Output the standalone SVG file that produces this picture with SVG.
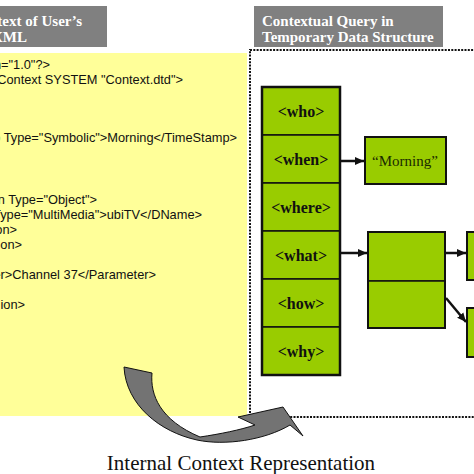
<svg xmlns="http://www.w3.org/2000/svg" width="474" height="474" viewBox="0 0 474 474">
<style>
.title{fill:#808080}
.tt{font-family:"Liberation Serif","Times New Roman",serif;font-weight:bold;font-size:15px;fill:#ffffff}
.xml{font-family:"Liberation Sans",Arial,sans-serif;font-size:12.8px;fill:#111111;text-anchor:end}
.cell{fill:#99cc00;stroke:#111111;stroke-width:1.5}
.lbl{font-family:"Liberation Serif","Times New Roman",serif;font-weight:bold;font-size:16px;fill:#111111;text-anchor:middle}
.val{font-family:"Liberation Serif","Times New Roman",serif;font-size:15px;fill:#1a2a00;text-anchor:middle}
.box{fill:#99cc00;stroke:#111111;stroke-width:2}
.conn{stroke:#111111;stroke-width:2.5;fill:none}
.dot{fill:none;stroke:#111111;stroke-width:2;stroke-dasharray:2 1.3}
</style>
<defs>
<marker id="ah" markerUnits="userSpaceOnUse" markerWidth="10" markerHeight="10" refX="9" refY="5" orient="auto">
<path d="M0,1 L9,5 L0,9 Z" fill="#111111"/>
</marker>
</defs>
<rect width="474" height="474" fill="#ffffff"/>

<g id="xml-panel">
<rect x="0" y="53" width="247" height="363" fill="#ffff99"/>
<text class="xml" x="50" y="69">n="1.0"?&gt;</text>
<text class="xml" x="183" y="84">&lt;Context SYSTEM "Context.dtd"&gt;</text>
<text class="xml" x="237" y="142">p Type="Symbolic"&gt;Morning&lt;/TimeStamp&gt;</text>
<text class="xml" x="97" y="204">n Type="Object"&gt;</text>
<text class="xml" x="202" y="219">Type="MultiMedia"&gt;ubiTV&lt;/DName&gt;</text>
<text class="xml" x="17" y="234">on&gt;</text>
<text class="xml" x="22" y="249">on&gt;</text>
<text class="xml" x="156" y="279">er&gt;Channel 37&lt;/Parameter&gt;</text>
<text class="xml" x="25" y="309">ion&gt;</text>
</g>

<g id="xml-title">
<rect class="title" x="0" y="6" width="107" height="41"/>
<text class="tt" x="82" y="26" text-anchor="end">text of User’s</text>
<text class="tt" x="27" y="42" text-anchor="end">XML</text>
</g>

<g id="query-frame">
<rect class="dot" x="250" y="50" width="260" height="367"/>
</g>

<g id="query-title">
<rect class="title" x="254" y="6" width="189" height="41"/>
<text class="tt" x="262" y="26">Contextual Query in</text>
<text class="tt" x="262" y="42">Temporary Data Structure</text>
</g>

<g id="w-column">
<rect class="cell" x="262" y="87" width="78" height="48"/>
<rect class="cell" x="262" y="135" width="78" height="48"/>
<rect class="cell" x="262" y="183" width="78" height="48"/>
<rect class="cell" x="262" y="231" width="78" height="48"/>
<rect class="cell" x="262" y="279" width="78" height="48"/>
<rect class="cell" x="262" y="327" width="78" height="48"/>
<rect x="262" y="87" width="78" height="288" fill="none" stroke="#111111" stroke-width="2.5"/>
<text class="lbl" x="301" y="117">&lt;who&gt;</text>
<text class="lbl" x="301" y="165">&lt;when&gt;</text>
<text class="lbl" x="301" y="213">&lt;where&gt;</text>
<text class="lbl" x="301" y="261">&lt;what&gt;</text>
<text class="lbl" x="301" y="309">&lt;how&gt;</text>
<text class="lbl" x="301" y="357">&lt;why&gt;</text>
</g>

<g id="morning">
<rect class="box" x="365" y="137" width="81" height="47"/>
<text class="val" x="405" y="166">“Morning”</text>
</g>

<g id="what-object">
<rect class="cell" x="368" y="232" width="77" height="49"/>
<rect class="cell" x="368" y="281" width="77" height="47"/>
<rect x="368" y="232" width="77" height="96" fill="none" stroke="#111111" stroke-width="2"/>
</g>

<g id="right-top">
<rect class="box" x="467" y="232" width="20" height="48"/>
</g>
<g id="right-bottom">
<rect class="box" x="467" y="308" width="20" height="49"/>
</g>

<g id="connectors">
<line class="conn" x1="340" y1="161" x2="364" y2="161" marker-end="url(#ah)"/>
<line class="conn" x1="340" y1="253" x2="367" y2="253" marker-end="url(#ah)"/>
<line class="conn" x1="445" y1="253" x2="466" y2="253" marker-end="url(#ah)"/>
<line class="conn" x1="446" y1="298" x2="466" y2="322" marker-end="url(#ah)"/>
</g>

<g id="transform-arrow">
<path d="M124,367 L152,373 C150,395 160,420 200,437 C220,434 240,430 255,425 L238,417 L283,407 L303,436 L290,425 C265,440 225,446 197,440 C160,432 126,405 124,367 Z" fill="#737373" stroke="#111111" stroke-width="1"/>
</g>

<text x="241" y="470" font-family="'Liberation Serif','Times New Roman',serif" font-size="21" fill="#111111" text-anchor="middle">Internal Context Representation</text>
</svg>
